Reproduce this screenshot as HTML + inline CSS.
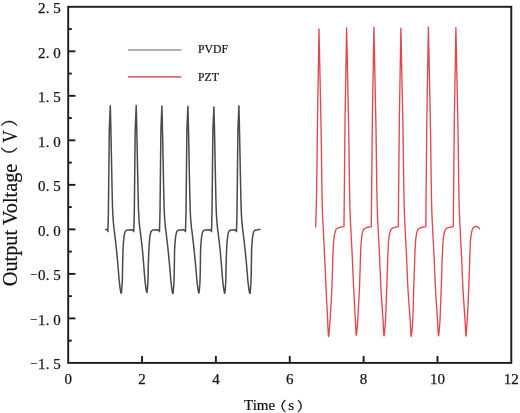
<!DOCTYPE html>
<html><head><meta charset="utf-8"><style>
html,body{margin:0;padding:0;background:#fff;}
body{width:520px;height:413px;overflow:hidden;}
svg{display:block;filter:blur(0.3px);}
text{font-family:"Liberation Serif","Noto Serif CJK SC",serif;text-spacing-trim:space-all;}
.tk text{font-size:15px;fill:#161616;stroke:#161616;stroke-width:0.25px;}
.tk .mn{font-size:13px;stroke-width:0.1px;}
.lab{fill:#111;stroke:#111;stroke-width:0.2px;}
.pr{font-family:"Noto Serif CJK SC",serif;stroke-width:0.45px;}
</style></head><body>
<svg width="520" height="413" viewBox="0 0 520 413">
<rect x="0" y="0" width="520" height="413" fill="#fff"/>
<polyline points="105.00,229.40 107.20,229.60 107.90,231.60 108.40,212.00 108.80,175.00 109.30,130.00 110.30,105.70 110.38,108.91 110.50,113.40 110.63,118.70 110.77,124.39 110.90,130.00 111.02,135.64 111.14,141.59 111.26,147.73 111.38,153.91 111.50,160.00 111.62,166.13 111.74,172.38 111.86,178.58 111.98,184.51 112.10,190.00 112.22,195.06 112.33,199.81 112.44,204.23 112.56,208.30 112.70,212.00 112.86,215.22 113.02,217.99 113.20,220.45 113.40,222.74 113.60,225.00 113.81,227.11 114.03,228.97 114.27,230.78 114.52,232.72 114.80,234.99 115.11,237.67 115.46,240.62 115.82,243.74 116.17,246.89 116.50,249.97 116.80,252.96 117.09,255.96 117.37,258.95 117.64,261.95 117.91,264.94 118.17,268.03 118.42,271.20 118.67,274.33 118.91,277.28 119.14,279.92 119.38,282.26 119.61,284.38 119.84,286.29 120.06,287.96 120.27,289.41 120.48,290.65 120.68,291.70 120.87,292.50 121.04,293.02 121.20,293.20 121.33,293.02 121.43,292.50 121.52,291.70 121.61,290.65 121.71,289.41 121.84,287.96 121.97,286.29 122.10,284.38 122.23,282.26 122.33,279.92 122.41,277.28 122.47,274.33 122.53,271.20 122.58,268.03 122.64,264.94 122.70,261.85 122.77,258.67 122.84,255.53 122.91,252.58 123.00,249.97 123.10,247.74 123.22,245.80 123.34,244.07 123.47,242.49 123.60,240.98 123.73,239.55 123.86,238.25 123.99,237.06 124.14,235.98 124.30,234.99 124.47,234.10 124.65,233.31 124.85,232.62 125.06,232.02 125.30,231.50 125.56,231.08 125.84,230.77 126.14,230.54 126.46,230.36 126.80,230.20 127.20,230.07 127.66,229.99 128.12,229.95 128.52,229.92 128.80,229.90 132.20,229.80 133.30,230.60 133.80,231.60 134.30,212.00 134.70,175.00 135.20,130.00 136.20,105.50 136.28,108.74 136.40,113.27 136.53,118.63 136.67,124.36 136.80,130.00 136.92,135.65 137.04,141.60 137.16,147.74 137.28,153.91 137.40,160.00 137.52,166.13 137.64,172.38 137.76,178.58 137.88,184.51 138.00,190.00 138.12,195.06 138.23,199.81 138.34,204.23 138.46,208.30 138.60,212.00 138.76,215.23 138.92,218.00 139.10,220.45 139.30,222.74 139.50,225.00 139.71,227.10 139.93,228.96 140.17,230.75 140.42,232.68 140.70,234.93 141.01,237.57 141.36,240.49 141.73,243.57 142.08,246.68 142.40,249.71 142.68,252.67 142.94,255.63 143.19,258.59 143.43,261.54 143.67,264.50 143.92,267.55 144.16,270.68 144.41,273.76 144.65,276.68 144.88,279.29 145.11,281.60 145.34,283.69 145.57,285.57 145.78,287.23 145.99,288.65 146.19,289.88 146.39,290.92 146.58,291.71 146.75,292.22 146.90,292.40 147.03,292.22 147.13,291.71 147.21,290.92 147.30,289.88 147.40,288.65 147.52,287.23 147.65,285.57 147.79,283.69 147.91,281.60 148.01,279.29 148.09,276.68 148.14,273.76 148.19,270.68 148.24,267.55 148.31,264.50 148.41,261.45 148.53,258.30 148.65,255.20 148.78,252.29 148.90,249.71 149.02,247.51 149.13,245.60 149.25,243.89 149.37,242.33 149.50,240.84 149.63,239.43 149.76,238.15 149.89,236.97 150.04,235.91 150.20,234.93 150.37,234.05 150.55,233.27 150.75,232.58 150.96,231.99 151.20,231.48 151.46,231.07 151.74,230.76 152.04,230.53 152.36,230.35 152.70,230.20 153.10,230.07 153.56,229.99 154.02,229.95 154.42,229.92 154.70,229.90 157.90,229.80 159.00,230.60 159.50,231.60 160.00,212.00 160.40,175.00 160.90,130.00 161.90,106.00 161.98,109.17 162.10,113.58 162.23,118.82 162.37,124.43 162.50,130.00 162.62,135.62 162.74,141.57 162.86,147.71 162.98,153.90 163.10,160.00 163.22,166.13 163.34,172.38 163.46,178.58 163.58,184.51 163.70,190.00 163.82,195.06 163.93,199.81 164.04,204.23 164.16,208.30 164.30,212.00 164.46,215.22 164.62,217.99 164.80,220.45 165.00,222.73 165.20,225.00 165.41,227.11 165.63,228.98 165.87,230.79 166.12,232.74 166.40,235.02 166.71,237.70 167.05,240.67 167.41,243.80 167.77,246.97 168.10,250.06 168.41,253.07 168.72,256.08 169.01,259.09 169.30,262.10 169.58,265.11 169.84,268.21 170.10,271.39 170.35,274.54 170.59,277.50 170.82,280.16 171.06,282.51 171.30,284.64 171.53,286.55 171.75,288.24 171.97,289.69 172.17,290.94 172.37,291.99 172.57,292.80 172.74,293.32 172.90,293.50 173.03,293.32 173.13,292.80 173.22,291.99 173.32,290.94 173.42,289.69 173.54,288.24 173.68,286.55 173.81,284.64 173.94,282.51 174.04,280.16 174.12,277.50 174.19,274.54 174.25,271.39 174.30,268.21 174.35,265.11 174.40,262.00 174.44,258.80 174.48,255.65 174.53,252.69 174.60,250.06 174.70,247.82 174.81,245.87 174.94,244.14 175.07,242.55 175.20,241.04 175.33,239.60 175.46,238.29 175.59,237.10 175.74,236.01 175.90,235.02 176.07,234.12 176.25,233.33 176.45,232.63 176.66,232.03 176.90,231.51 177.16,231.09 177.44,230.78 177.74,230.54 178.06,230.36 178.40,230.20 178.80,230.07 179.26,229.99 179.72,229.95 180.12,229.92 180.40,229.90 183.90,229.80 185.00,230.60 185.50,231.60 186.00,212.00 186.40,175.00 186.90,130.00 187.90,106.20 187.98,109.34 188.10,113.71 188.23,118.89 188.37,124.46 188.50,130.00 188.62,135.60 188.74,141.55 188.86,147.70 188.98,153.90 189.10,160.00 189.22,166.13 189.34,172.38 189.46,178.58 189.58,184.51 189.70,190.00 189.82,195.06 189.93,199.81 190.04,204.23 190.16,208.30 190.30,212.00 190.46,215.22 190.62,217.99 190.80,220.45 191.00,222.74 191.20,225.00 191.41,227.11 191.63,228.97 191.87,230.77 192.12,232.71 192.40,234.98 192.71,237.64 193.05,240.59 193.41,243.70 193.77,246.84 194.10,249.90 194.41,252.89 194.72,255.88 195.01,258.86 195.30,261.85 195.58,264.83 195.84,267.91 196.10,271.07 196.35,274.19 196.59,277.13 196.82,279.76 197.06,282.10 197.30,284.21 197.53,286.11 197.75,287.78 197.97,289.22 198.17,290.46 198.37,291.50 198.57,292.30 198.74,292.82 198.90,293.00 199.03,292.82 199.13,292.30 199.22,291.50 199.32,290.46 199.42,289.22 199.54,287.78 199.68,286.11 199.81,284.21 199.94,282.10 200.04,279.76 200.12,277.13 200.19,274.19 200.25,271.07 200.30,267.91 200.35,264.83 200.40,261.75 200.44,258.58 200.48,255.45 200.53,252.51 200.60,249.90 200.70,247.68 200.81,245.75 200.94,244.03 201.07,242.45 201.20,240.95 201.33,239.52 201.46,238.22 201.59,237.04 201.74,235.96 201.90,234.98 202.07,234.08 202.25,233.30 202.45,232.61 202.66,232.01 202.90,231.49 203.16,231.08 203.44,230.77 203.74,230.54 204.06,230.36 204.40,230.20 204.80,230.07 205.26,229.99 205.72,229.95 206.12,229.92 206.40,229.90 209.90,229.80 211.00,230.60 211.50,231.60 212.00,212.00 212.40,175.00 212.90,130.00 213.90,107.00 213.98,110.02 214.10,114.21 214.23,119.19 214.37,124.58 214.50,130.00 214.62,135.55 214.74,141.50 214.86,147.66 214.98,153.89 215.10,160.00 215.22,166.13 215.34,172.38 215.46,178.58 215.58,184.51 215.70,190.00 215.82,195.06 215.93,199.81 216.04,204.23 216.16,208.30 216.30,212.00 216.46,215.22 216.62,217.99 216.80,220.45 217.00,222.74 217.20,225.00 217.41,227.11 217.63,228.97 217.87,230.78 218.12,232.72 218.40,234.99 218.71,237.67 219.06,240.62 219.42,243.74 219.78,246.89 220.10,249.97 220.39,252.96 220.67,255.96 220.93,258.95 221.18,261.95 221.44,264.94 221.69,268.03 221.94,271.20 222.19,274.33 222.43,277.28 222.66,279.92 222.90,282.26 223.13,284.38 223.35,286.29 223.57,287.96 223.78,289.41 223.99,290.65 224.18,291.70 224.37,292.50 224.55,293.02 224.70,293.20 224.83,293.02 224.93,292.50 225.02,291.70 225.11,290.65 225.21,289.41 225.33,287.96 225.46,286.29 225.59,284.38 225.72,282.26 225.82,279.92 225.90,277.28 225.96,274.33 226.01,271.20 226.06,268.03 226.13,264.94 226.21,261.85 226.30,258.67 226.39,255.53 226.49,252.58 226.60,249.97 226.71,247.74 226.83,245.80 226.95,244.07 227.07,242.49 227.20,240.98 227.33,239.55 227.46,238.25 227.59,237.06 227.74,235.98 227.90,234.99 228.07,234.10 228.25,233.31 228.45,232.62 228.66,232.02 228.90,231.50 229.16,231.08 229.44,230.77 229.74,230.54 230.06,230.36 230.40,230.20 230.80,230.07 231.26,229.99 231.72,229.95 232.12,229.92 232.40,229.90 234.90,229.80 236.00,230.60 236.50,231.60 237.00,212.00 237.40,175.00 237.90,130.00 238.90,105.70 238.98,108.91 239.10,113.40 239.23,118.70 239.37,124.39 239.50,130.00 239.62,135.64 239.74,141.59 239.86,147.73 239.98,153.91 240.10,160.00 240.22,166.13 240.34,172.38 240.46,178.58 240.58,184.51 240.70,190.00 240.82,195.06 240.93,199.81 241.04,204.23 241.16,208.30 241.30,212.00 241.46,215.22 241.62,217.99 241.80,220.45 242.00,222.73 242.20,225.00 242.41,227.11 242.63,228.98 242.87,230.79 243.12,232.74 243.40,235.02 243.71,237.70 244.05,240.67 244.41,243.80 244.77,246.97 245.10,250.06 245.41,253.07 245.72,256.08 246.01,259.09 246.30,262.10 246.58,265.11 246.84,268.21 247.10,271.39 247.35,274.54 247.59,277.50 247.82,280.16 248.06,282.51 248.30,284.64 248.53,286.55 248.75,288.24 248.97,289.69 249.17,290.94 249.37,291.99 249.57,292.80 249.74,293.32 249.90,293.50 250.03,293.32 250.13,292.80 250.22,291.99 250.32,290.94 250.42,289.69 250.54,288.24 250.68,286.55 250.81,284.64 250.94,282.51 251.04,280.16 251.12,277.50 251.19,274.54 251.25,271.39 251.30,268.21 251.35,265.11 251.40,262.00 251.44,258.80 251.48,255.65 251.53,252.69 251.60,250.06 251.70,247.82 251.81,245.87 251.94,244.14 252.07,242.55 252.20,241.04 252.33,239.60 252.46,238.29 252.59,237.10 252.74,236.01 252.90,235.02 253.07,234.12 253.25,233.33 253.45,232.63 253.66,232.03 253.90,231.51 254.16,231.09 254.44,230.78 254.74,230.54 255.06,230.36 255.40,230.20 255.80,230.07 256.26,229.99 256.72,229.95 257.12,229.92 257.40,229.90 258.00,229.50 260.50,229.60" fill="none" stroke="#4a4a4a" stroke-width="1.5" stroke-linejoin="round"/>
<polyline points="315.70,227.60 316.60,195.00 317.60,115.00 319.00,28.90 319.22,39.23 319.54,54.19 319.89,71.11 320.23,87.27 320.50,100.00 320.68,108.31 320.80,114.00 320.90,118.53 320.99,123.38 321.10,130.00 321.24,139.04 321.38,149.52 321.52,160.48 321.66,170.96 321.80,180.00 321.92,187.44 322.03,193.92 322.14,199.68 322.26,204.96 322.40,210.00 322.55,214.48 322.71,218.24 322.88,221.76 323.08,225.52 323.30,229.99 323.56,235.34 323.87,241.23 324.19,247.45 324.50,253.74 324.80,259.88 325.07,265.86 325.32,271.84 325.57,277.81 325.83,283.79 326.10,289.77 326.40,295.96 326.72,302.37 327.05,308.67 327.35,314.54 327.62,319.66 327.84,324.19 328.02,328.35 328.18,331.89 328.33,334.59 328.50,336.20 328.68,336.42 328.86,335.40 329.04,333.61 329.22,331.53 329.38,329.62 329.51,328.17 329.62,326.84 329.73,325.24 329.87,322.98 330.07,319.66 330.36,314.96 330.72,309.14 331.11,302.68 331.48,296.07 331.80,289.77 332.05,283.54 332.27,277.05 332.46,270.69 332.64,264.84 332.80,259.88 332.94,256.00 333.06,252.94 333.16,250.42 333.27,248.18 333.40,245.93 333.54,243.70 333.67,241.67 333.82,239.81 333.99,238.08 334.20,236.47 334.45,234.94 334.74,233.52 335.04,232.23 335.37,231.11 335.70,230.19 336.04,229.51 336.40,229.06 336.77,228.76 337.14,228.53 337.50,228.30 337.82,228.08 338.11,227.94 338.40,227.83 338.75,227.73 339.20,227.60 339.83,227.43 340.60,227.25 341.40,227.07 342.11,226.91 342.60,226.80 344.00,226.70 344.30,195.00 345.10,115.00 346.60,27.90 346.82,38.38 347.14,53.57 347.49,70.73 347.83,87.12 348.10,100.00 348.28,108.37 348.40,114.07 348.50,118.58 348.59,123.39 348.70,130.00 348.84,139.04 348.98,149.52 349.12,160.48 349.26,170.96 349.40,180.00 349.52,187.44 349.63,193.92 349.74,199.68 349.86,204.96 350.00,210.00 350.15,214.48 350.31,218.25 350.48,221.77 350.68,225.52 350.90,229.96 351.16,235.26 351.47,241.10 351.79,247.24 352.10,253.46 352.40,259.52 352.67,265.44 352.92,271.35 353.17,277.26 353.42,283.17 353.70,289.08 354.01,295.21 354.36,301.54 354.70,307.77 355.03,313.58 355.31,318.64 355.53,323.13 355.72,327.23 355.88,330.74 356.03,333.40 356.20,335.00 356.38,335.22 356.57,334.21 356.75,332.44 356.93,330.38 357.09,328.50 357.23,327.06 357.34,325.74 357.45,324.16 357.59,321.93 357.78,318.64 358.06,313.99 358.39,308.24 358.75,301.85 359.10,295.31 359.40,289.08 359.65,282.92 359.86,276.50 360.06,270.21 360.24,264.43 360.40,259.52 360.54,255.68 360.66,252.66 360.76,250.17 360.87,247.95 361.00,245.73 361.14,243.52 361.27,241.51 361.42,239.67 361.59,237.97 361.80,236.37 362.05,234.86 362.34,233.45 362.64,232.18 362.97,231.07 363.30,230.16 363.64,229.49 364.00,229.04 364.37,228.74 364.74,228.52 365.10,228.29 365.42,228.08 365.71,227.93 366.00,227.83 366.35,227.72 366.80,227.60 367.43,227.43 368.20,227.25 369.00,227.07 369.71,226.91 370.20,226.80 371.30,226.70 371.60,195.00 372.40,115.00 373.90,27.20 374.12,37.79 374.44,53.13 374.79,70.47 375.13,87.01 375.40,100.00 375.58,108.42 375.70,114.12 375.80,118.61 375.89,123.40 376.00,130.00 376.14,139.04 376.28,149.52 376.42,160.48 376.56,170.96 376.70,180.00 376.82,187.44 376.93,193.92 377.04,199.68 377.16,204.96 377.30,210.00 377.45,214.48 377.61,218.25 377.78,221.77 377.98,225.52 378.20,229.97 378.46,235.29 378.77,241.15 379.09,247.33 379.40,253.58 379.70,259.67 379.96,265.61 380.20,271.55 380.44,277.49 380.70,283.43 381.00,289.37 381.37,295.52 381.79,301.89 382.23,308.14 382.63,313.98 382.97,319.07 383.22,323.57 383.42,327.70 383.58,331.22 383.73,333.90 383.90,335.50 384.09,335.72 384.28,334.70 384.47,332.92 384.66,330.86 384.83,328.97 384.98,327.52 385.11,326.20 385.24,324.61 385.38,322.37 385.55,319.07 385.75,314.39 385.99,308.61 386.23,302.20 386.47,295.63 386.70,289.37 386.92,283.18 387.13,276.73 387.34,270.41 387.53,264.60 387.70,259.67 387.84,255.82 387.96,252.77 388.06,250.28 388.17,248.05 388.30,245.81 388.44,243.60 388.57,241.58 388.72,239.73 388.89,238.02 389.10,236.41 389.35,234.89 389.64,233.48 389.94,232.20 390.27,231.09 390.60,230.17 390.94,229.50 391.30,229.05 391.67,228.75 392.04,228.52 392.40,228.29 392.72,228.08 393.01,227.93 393.30,227.83 393.65,227.73 394.10,227.60 394.73,227.43 395.50,227.25 396.30,227.07 397.01,226.91 397.50,226.80 398.30,226.70 398.60,195.00 399.40,115.00 400.90,28.20 401.12,38.63 401.44,53.76 401.79,70.84 402.13,87.17 402.40,100.00 402.58,108.36 402.70,114.05 402.80,118.57 402.89,123.39 403.00,130.00 403.14,139.04 403.28,149.52 403.42,160.48 403.56,170.96 403.70,180.00 403.82,187.44 403.93,193.92 404.04,199.68 404.16,204.96 404.30,210.00 404.45,214.48 404.61,218.24 404.78,221.76 404.98,225.52 405.20,229.99 405.46,235.32 405.77,241.21 406.09,247.41 406.40,253.70 406.70,259.82 406.96,265.79 407.19,271.76 407.43,277.72 407.69,283.69 408.00,289.66 408.40,295.84 408.86,302.23 409.34,308.52 409.79,314.38 410.15,319.49 410.42,324.02 410.62,328.16 410.78,331.70 410.93,334.39 411.10,336.00 411.29,336.22 411.49,335.20 411.68,333.41 411.87,331.33 412.05,329.44 412.20,327.98 412.35,326.66 412.49,325.06 412.63,322.81 412.78,319.49 412.95,314.80 413.13,308.99 413.32,302.55 413.51,295.94 413.70,289.66 413.90,283.43 414.11,276.96 414.32,270.61 414.52,264.77 414.70,259.82 414.84,255.95 414.96,252.89 415.06,250.38 415.17,248.14 415.30,245.90 415.44,243.67 415.57,241.64 415.72,239.79 415.89,238.06 416.10,236.45 416.35,234.92 416.64,233.51 416.94,232.22 417.27,231.11 417.60,230.19 417.94,229.51 418.30,229.06 418.67,228.76 419.04,228.53 419.40,228.30 419.72,228.08 420.01,227.94 420.30,227.83 420.65,227.73 421.10,227.60 421.73,227.43 422.50,227.25 423.30,227.07 424.01,226.91 424.50,226.80 425.80,226.70 426.10,195.00 426.90,115.00 428.40,27.00 428.62,37.62 428.94,53.01 429.29,70.39 429.63,86.98 429.90,100.00 430.08,108.43 430.20,114.14 430.30,118.62 430.39,123.41 430.50,130.00 430.64,139.04 430.78,149.52 430.92,160.48 431.06,170.96 431.20,180.00 431.32,187.44 431.43,193.92 431.54,199.68 431.66,204.96 431.80,210.00 431.95,214.48 432.11,218.25 432.28,221.77 432.48,225.52 432.70,229.97 432.96,235.29 433.27,241.15 433.59,247.33 433.90,253.58 434.20,259.67 434.46,265.61 434.70,271.55 434.94,277.49 435.20,283.43 435.50,289.37 435.87,295.52 436.29,301.89 436.73,308.14 437.13,313.98 437.47,319.07 437.72,323.57 437.92,327.70 438.08,331.22 438.23,333.90 438.40,335.50 438.59,335.72 438.78,334.70 438.97,332.92 439.16,330.86 439.33,328.97 439.48,327.52 439.61,326.20 439.74,324.61 439.88,322.37 440.05,319.07 440.25,314.39 440.49,308.61 440.73,302.20 440.97,295.63 441.20,289.37 441.42,283.18 441.63,276.73 441.84,270.41 442.03,264.60 442.20,259.67 442.34,255.82 442.46,252.77 442.56,250.28 442.67,248.05 442.80,245.81 442.94,243.60 443.07,241.58 443.22,239.73 443.39,238.02 443.60,236.41 443.85,234.89 444.14,233.48 444.44,232.20 444.77,231.09 445.10,230.17 445.44,229.50 445.80,229.05 446.17,228.75 446.54,228.52 446.90,228.29 447.22,228.08 447.51,227.93 447.80,227.83 448.15,227.73 448.60,227.60 449.23,227.43 450.00,227.25 450.80,227.07 451.51,226.91 452.00,226.80 453.30,226.70 453.60,195.00 454.40,115.00 455.90,27.70 456.12,38.21 456.44,53.44 456.79,70.66 457.13,87.09 457.40,100.00 457.58,108.39 457.70,114.09 457.80,118.59 457.89,123.40 458.00,130.00 458.14,139.04 458.28,149.52 458.42,160.48 458.56,170.96 458.70,180.00 458.82,187.44 458.93,193.92 459.04,199.68 459.16,204.96 459.30,210.00 459.45,214.48 459.61,218.24 459.78,221.76 459.98,225.52 460.20,229.98 460.46,235.30 460.77,241.18 461.09,247.36 461.40,253.63 461.70,259.73 461.96,265.68 462.20,271.63 462.44,277.58 462.70,283.53 463.00,289.48 463.37,295.65 463.79,302.02 464.23,308.29 464.63,314.14 464.97,319.24 465.23,323.73 465.43,327.84 465.60,331.35 465.75,334.04 465.90,335.70 466.04,336.05 466.16,335.22 466.27,333.65 466.38,331.77 466.50,330.00 466.62,328.60 466.73,327.27 466.86,325.65 467.01,323.35 467.20,320.00 467.46,315.28 467.77,309.44 468.10,302.96 468.42,296.32 468.70,290.00 468.94,283.81 469.15,277.42 469.35,271.14 469.53,265.23 469.70,260.00 469.86,255.47 469.99,251.46 470.12,247.90 470.25,244.77 470.40,242.00 470.56,239.70 470.74,237.91 470.92,236.47 471.10,235.22 471.30,234.00 471.50,232.84 471.71,231.84 471.92,230.97 472.15,230.20 472.40,229.50 472.66,228.88 472.92,228.35 473.21,227.91 473.53,227.53 473.90,227.20 474.34,226.91 474.85,226.68 475.39,226.51 475.92,226.41 476.40,226.40 476.84,226.49 477.26,226.68 477.66,226.94 478.04,227.22 478.40,227.50 478.76,227.80 479.11,228.14 479.43,228.49 479.70,228.79 479.90,229.00" fill="none" stroke="#e0484e" stroke-width="1.35" stroke-linejoin="round"/>
<g stroke="#1a1a1a" stroke-width="1.9" fill="none">
<rect x="68.20" y="6.80" width="443.10" height="356.10"/>
<line x1="68.20" y1="340.64" x2="71.80" y2="340.64"/><line x1="68.20" y1="318.39" x2="75.40" y2="318.39"/><line x1="68.20" y1="296.13" x2="71.80" y2="296.13"/><line x1="68.20" y1="273.88" x2="75.40" y2="273.88"/><line x1="68.20" y1="251.62" x2="71.80" y2="251.62"/><line x1="68.20" y1="229.36" x2="75.40" y2="229.36"/><line x1="68.20" y1="207.11" x2="71.80" y2="207.11"/><line x1="68.20" y1="184.85" x2="75.40" y2="184.85"/><line x1="68.20" y1="162.59" x2="71.80" y2="162.59"/><line x1="68.20" y1="140.34" x2="75.40" y2="140.34"/><line x1="68.20" y1="118.08" x2="71.80" y2="118.08"/><line x1="68.20" y1="95.82" x2="75.40" y2="95.82"/><line x1="68.20" y1="73.57" x2="71.80" y2="73.57"/><line x1="68.20" y1="51.31" x2="75.40" y2="51.31"/><line x1="68.20" y1="29.06" x2="71.80" y2="29.06"/><line x1="142.05" y1="362.90" x2="142.05" y2="355.90"/><line x1="215.90" y1="362.90" x2="215.90" y2="355.90"/><line x1="289.75" y1="362.90" x2="289.75" y2="355.90"/><line x1="363.60" y1="362.90" x2="363.60" y2="355.90"/><line x1="437.45" y1="362.90" x2="437.45" y2="355.90"/>
</g>
<line x1="127.9" y1="50.0" x2="181.5" y2="50.0" stroke="#9a9a9a" stroke-width="1.7"/>
<line x1="127.9" y1="76.9" x2="181.4" y2="76.9" stroke="#e06a78" stroke-width="1.9"/>
<g class="lab">
<text x="198.0" y="52.8" font-size="11.7">PVDF</text>
<text x="198.0" y="80.7" font-size="11.7">PZT</text>
<text y="410.2" font-size="15"><tspan x="244">Time</tspan><tspan class="pr" x="273.15" y="411.15" font-size="13">（</tspan><tspan x="288.3" y="410.2">s</tspan><tspan class="pr" x="297.05" y="411.15" font-size="13">）</tspan></text>
<g transform="translate(16.5,286.2) rotate(-90)"><text font-size="20.25"><tspan x="0" y="0">Output Voltage</tspan><tspan class="pr" x="122.6" y="-0.8" font-size="16.8">（</tspan><tspan x="143.4" y="0" textLength="12.4" lengthAdjust="spacingAndGlyphs">V</tspan><tspan class="pr" x="159.5" y="-0.8" font-size="16.8">）</tspan></text></g>
</g>
<g class="tk">
<text x="38.0 45.7 53.3" y="13.00">2.5</text><text x="38.0 45.7 53.3" y="57.51">2.0</text><text x="38.0 45.7 53.3" y="102.02">1.5</text><text x="38.0 45.7 53.3" y="146.54">1.0</text><text x="38.0 45.7 53.3" y="191.05">0.5</text><text x="38.0 45.7 53.3" y="235.56">0.0</text><text y="280.07"><tspan class="mn" x="29.9" y="279.38">−</tspan><tspan x="38.0 45.7 53.3" y="280.07">0.5</tspan></text><text y="324.59"><tspan class="mn" x="29.9" y="323.89">−</tspan><tspan x="38.0 45.7 53.3" y="324.59">1.0</tspan></text><text y="369.10"><tspan class="mn" x="29.9" y="368.40">−</tspan><tspan x="38.0 45.7 53.3" y="369.10">1.5</tspan></text>
<text x="68.20" y="384.20" text-anchor="middle">0</text><text x="142.05" y="384.20" text-anchor="middle">2</text><text x="215.90" y="384.20" text-anchor="middle">4</text><text x="289.75" y="384.20" text-anchor="middle">6</text><text x="363.60" y="384.20" text-anchor="middle">8</text><text x="437.45" y="384.20" text-anchor="middle">10</text><text x="511.30" y="384.20" text-anchor="middle">12</text>
</g>
</svg>
</body></html>
